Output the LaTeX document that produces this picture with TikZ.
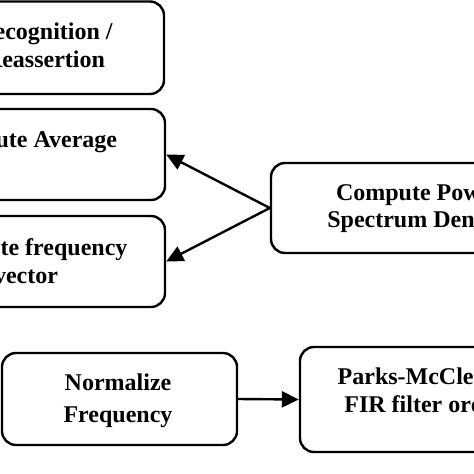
\documentclass[tikz,border=0pt]{standalone}
\usepackage{fontspec}
\setmainfont{Liberation Serif}
\usetikzlibrary{arrows.meta}
\begin{document}
\begin{tikzpicture}[x=1pt,y=-1pt,
  box/.style={draw=black, line width=2.4pt, rounded corners=14pt, fill=white, inner sep=0pt},
  lbl/.style={anchor=base, inner sep=0pt, font=\fontsize{24}{28}\selectfont\bfseries},
  arr/.style={line width=2.4pt, -{Triangle[length=17pt,width=16pt]}}]
\useasboundingbox (0,0) rectangle (474,474);
\clip (0,0) rectangle (474,474);
% boxes
\node[box, minimum width=238pt, minimum height=92.5pt] (b1) at (45,47.75) {};
\node[box, minimum width=280pt, minimum height=91pt] (b2) at (25,154.5) {};
\node[box, minimum width=278pt, minimum height=91pt] (b3) at (26,261.5) {};
\node[box, minimum width=296pt, minimum height=90pt] (b4) at (419,208) {};
\node[box, minimum width=235pt, minimum height=92pt] (b5) at (119.5,399) {};
\node[box, minimum width=250pt, minimum height=105pt] (b6) at (425,399.5) {};
% texts
\node[lbl] (t1a) at (45,39.5) {Recognition /};
\node[lbl] (t1b) at (45,67) {Reassertion};
\node[lbl] (t2a) at (25,147) {Compute Average};
\node[lbl] (t3a) at (26,255) {Compute frequency};
\node[lbl] (t3b) at (26,283) {vector};
\node[lbl] (t4a) at (419,200.5) {Compute Power};
\node[lbl] (t4b) at (419,227.5) {Spectrum Density};
\node[lbl] (t5a) at (118,390.5) {Normalize};
\node[lbl] (t5b) at (118,422.5) {Frequency};
\node[lbl] (t6a) at (425,384) {Parks-McClellan};
\node[lbl] (t6b) at (425,412) {FIR filter order};
% connectors
\draw[arr] (b4.west) -- (b2.east);
\draw[arr] (b4.west) -- (b3.east);
\draw[arr] (b5.east) -- (b6.west);
\end{tikzpicture}
\end{document}
